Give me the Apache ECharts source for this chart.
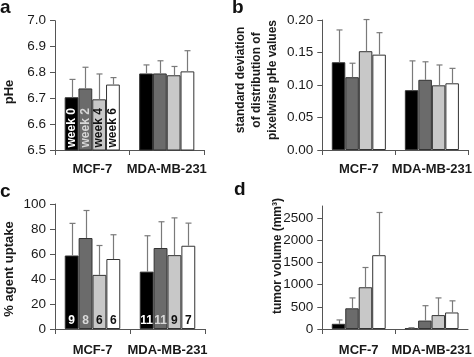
<!DOCTYPE html>
<html><head><meta charset="utf-8">
<script src="https://cdn.jsdelivr.net/npm/echarts@6/dist/echarts.min.js"></script>
<style>html,body{margin:0;padding:0;background:#fff}#c{width:474px;height:357px}</style>
</head><body><div id="c"></div>
<script>
// ---- data ----
const categories = ['MCF-7', 'MDA-MB-231'];
const weeks = ['week 0', 'week 2', 'week 4', 'week 6'];

// panel a: pHe (mean, upper error) per week, [MCF-7, MDA-MB-231]
const pheMean = [[6.704, 6.796], [6.738, 6.796], [6.696, 6.789], [6.753, 6.804]];
const pheErr  = [[0.069, 0.033], [0.082, 0.049], [0.098, 0.034], [0.027, 0.080]];
const pheTicks = [6.5, 6.6, 6.7, 6.8, 6.9, 7.0];

// panel b: SD of pixelwise pHe
const sdMean = [[0.135, 0.092], [0.112, 0.108], [0.152, 0.0995], [0.1467, 0.1026]];
const sdErr  = [[0.0497, 0.0451], [0.0215, 0.0277], [0.0487, 0.0313], [0.0338, 0.0230]];
const sdTicks = [0, 0.05, 0.10, 0.15, 0.20];

// panel c: % agent uptake
const uptakeMean = [[58.8, 45.9], [72.8, 64.8], [43.3, 59.1], [56.0, 66.6]];
const uptakeErr  = [[25.7, 28.7], [22.0, 21.0], [23.5, 29.8], [19.4, 18.1]];
const uptakeN    = [['9', '11'], ['8', '11'], ['6', '9'], ['6', '7']];
const uptakeTicks = [0, 20, 40, 60, 80, 100];

// panel d: tumor volume (mm3)
const volMean = [[117, 15], [466, 190], [940, 313], [1662, 372]];
const volErr  = [[87, 14], [234, 335], [445, 387], [962, 262]];
const volTicks = [0, 500, 1000, 1500, 2000, 2500];

// ---- style ----
const FONT = "'Liberation Sans', Arial, sans-serif";
const barColors = ['#000000', '#6b6b6b', '#c8c8c8', '#ffffff'];
const inLabelColors = ['#ffffff', '#d8d8d8', '#111111', '#111111'];
const GAP = 0.26;
const axisCol = '#555';

const grids = [
  {left: 55, top: 20.7, width: 149, height: 129.3},
  {left: 322.3, top: 20, width: 150, height: 130},
  {left: 55, top: 204, width: 150, height: 128.7},
  {left: 322.3, top: 206, width: 148.4, height: 126.7}
];
const yDefs = [
  {min: 6.5, max: 7.0, interval: 0.1, ticks: pheTicks, fmt: v => v.toFixed(1)},
  {min: 0, max: 0.2, interval: 0.05, ticks: sdTicks, fmt: v => v.toFixed(2)},
  {min: 0, max: 100, interval: 20, ticks: uptakeTicks, fmt: v => String(v)},
  {min: 0, max: 2770, interval: 500, ticks: volTicks, fmt: v => String(v)}
];

const xAxis = grids.map((g, i) => ({
  type: 'category', gridIndex: i, data: categories,
  axisLine: {lineStyle: {color: axisCol, width: 1}},
  axisTick: {show: true, length: 5, inside: false, alignWithLabel: false, interval: 0, lineStyle: {color: axisCol}},
  axisLabel: {interval: 0, hideOverlap: false, margin: i < 2 ? 13 : 15, fontFamily: FONT, fontWeight: 'bold', fontSize: 13, color: '#1a1a1a'}
}));
const yAxis = yDefs.map((d, i) => ({
  type: 'value', gridIndex: i, min: d.min, max: d.max, interval: d.interval,
  splitLine: {show: false},
  axisLine: {show: true, lineStyle: {color: axisCol, width: 1}},
  axisTick: {show: true, length: 5, customValues: d.ticks, lineStyle: {color: axisCol}},
  axisLabel: {margin: 9, customValues: d.ticks, fontFamily: FONT, fontSize: 13.5, color: '#1a1a1a',
    formatter: v => d.ticks.some(t => Math.abs(t - v) < 1e-9) ? d.fmt(v) : ''}
}));

function barSeries(panel, means, labelFn) {
  return weeks.map((w, k) => ({
    type: 'bar', name: w, xAxisIndex: panel, yAxisIndex: panel,
    barGap: '0%', barCategoryGap: (GAP * 100) + '%',
    itemStyle: {color: barColors[k], borderColor: '#333', borderWidth: 1},
    data: means[k].map((v, c) => {
      const item = {value: v};
      const lab = labelFn ? labelFn(k, c) : null;
      if (lab) item.label = lab;
      return item;
    }),
    z: 2
  }));
}

function errSeries(panel, means, errs) {
  const data = [];
  means.forEach((arr, k) => arr.forEach((v, c) => data.push([c, v, errs[k][c], k])));
  return {
    type: 'custom', xAxisIndex: panel, yAxisIndex: panel, z: 5,
    encode: {x: 0, y: 1},
    data: data,
    renderItem: function (params, api) {
      const c = api.value(0), v = api.value(1), e = api.value(2), k = api.value(3);
      const band = api.size([1, 0])[0];
      const bw = band * (1 - GAP) / 4;
      const p0 = api.coord([c, v]);
      const p1 = api.coord([c, v + e]);
      const x = Math.round(p0[0] + (k - 1.5) * bw) + 0.5;
      const style = {stroke: '#7a7a7a', lineWidth: 1.2};
      return {type: 'group', children: [
        {type: 'line', shape: {x1: x, y1: p0[1], x2: x, y2: p1[1]}, style: style},
        {type: 'line', shape: {x1: x - 3, y1: p1[1], x2: x + 3, y2: p1[1]}, style: style}
      ]};
    }
  };
}

const weekLabel = (k, c) => c === 0 ? {
  show: true, position: 'insideBottom', distance: 3, rotate: 90, align: 'left', verticalAlign: 'middle',
  formatter: weeks[k], color: inLabelColors[k], fontFamily: FONT, fontWeight: 'bold', fontSize: 12
} : null;
const nLabel = (k, c) => ({
  show: true, position: 'insideBottom', distance: 2,
  formatter: uptakeN[k][c], color: inLabelColors[k], fontFamily: FONT, fontWeight: 'bold', fontSize: 12
});

const series = [].concat(
  barSeries(0, pheMean, weekLabel), [errSeries(0, pheMean, pheErr)],
  barSeries(1, sdMean, null), [errSeries(1, sdMean, sdErr)],
  barSeries(2, uptakeMean, nLabel), [errSeries(2, uptakeMean, uptakeErr)],
  barSeries(3, volMean, null), [errSeries(3, volMean, volErr)]
);

function vtext(text, x, y, size, lh) {
  return {type: 'text', x: x, y: y, rotation: Math.PI / 2,
    style: {text: text, font: 'bold ' + size + 'px ' + FONT, fill: '#1a1a1a',
      textAlign: 'center', textVerticalAlign: 'middle', align: 'center', verticalAlign: 'middle', lineHeight: lh || size}};
}
function letter(t, x, y) {
  return {type: 'text', x: x, y: y, style: {text: t, font: 'bold 19px ' + FONT, fill: '#111',
    textAlign: 'left', textVerticalAlign: 'top', align: 'left', verticalAlign: 'top'}};
}

const chart = echarts.init(document.getElementById('c'), null, {renderer: 'canvas'});
chart.setOption({
  animation: false,
  backgroundColor: '#fff',
  grid: grids,
  xAxis: xAxis,
  yAxis: yAxis,
  series: series,
  graphic: [
    letter('a', 0, -2), letter('b', 232, -2), letter('c', 0, 182), letter('d', 234, 180),
    vtext('pHe', 9, 92, 13),
    vtext('standard deviation\nof distribution of\npixelwise pHe values', 256.5, 80, 12, 16),
    vtext('% agent uptake', 9, 269, 13),
    vtext('tumor volume (mm³)', 278, 256, 12)
  ]
});
</script></body></html>
